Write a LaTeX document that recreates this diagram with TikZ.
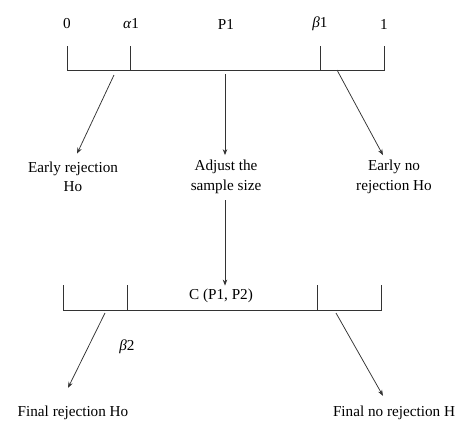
\documentclass[tikz,border=0pt]{standalone}
\usepackage{fontspec}
\setmainfont{Liberation Serif}
\usetikzlibrary{arrows.meta}
\tikzset{
  scalebar/.style={draw=black!80, line width=0.75pt},
  decision/.style={-{Stealth[length=6pt,width=4.5pt]}, draw=black!80, line width=0.75pt},
  outcome/.style={align=center, inner sep=1pt}
}
\begin{document}
\begin{tikzpicture}[x=1pt,y=-1pt,font=\fontsize{15.2}{19.5}\selectfont]
\useasboundingbox (0,0) rectangle (474,439);

% First stage scale
\draw[scalebar] (67,46) -- (67,70) -- (384,70) -- (384,46);
\draw[scalebar] (130,46) -- (130,70); % alpha1 boundary
\draw[scalebar] (320,46) -- (320,70); % beta1 boundary
\node (zero) at (67,24) {0};
\node (alpha) at (131,24) {\textit{α}1};
\node (pone) at (226,24) {P1};
\node (beta) at (320,24) {\textit{β}1};
\node (one) at (384,24) {1};

% First stage decisions
\node[outcome] (early) at (73,177) {Early rejection\\Ho};
\node[outcome] (adjust) at (226,177) {Adjust the\\sample size};
\node[outcome] (earlyno) at (394,177) {Early no\\rejection Ho};
\coordinate (s1) at (114,75);
\coordinate (s2) at (225,74);
\coordinate (s3) at (337,70);
\draw[decision] (s1) -- ([xshift=4pt,yshift=7pt]early.north);
\draw[decision] (s2) -- ([xshift=-1pt,yshift=4pt]adjust.north);
\draw[decision] (s3) -- ([xshift=-11pt,yshift=4pt]earlyno.north);

% Second stage scale
\draw[scalebar] (63,285) -- (63,310) -- (381,310) -- (381,285);
\draw[scalebar] (127,285) -- (127,310);
\draw[scalebar] (317,285) -- (317,310);
\node (cval) at (221,296) {C (P1, P2)};
\node (btwo) at (127,347) {\textit{β}2};
\coordinate (c1) at (225,200);
\draw[decision] (c1) -- (c1 |- cval.north);

% Final decisions
\node[outcome] (final) at (73,413) {Final rejection Ho};
\node[outcome] (finalno) at (394,413) {Final no rejection H};
\coordinate (f1) at (105,313);
\coordinate (f2) at (336,313);
\draw[decision] (f1) -- ([xshift=-5pt,yshift=17pt]final.north);
\draw[decision] (f2) -- ([xshift=-11pt,yshift=9pt]finalno.north);
\end{tikzpicture}
\end{document}
